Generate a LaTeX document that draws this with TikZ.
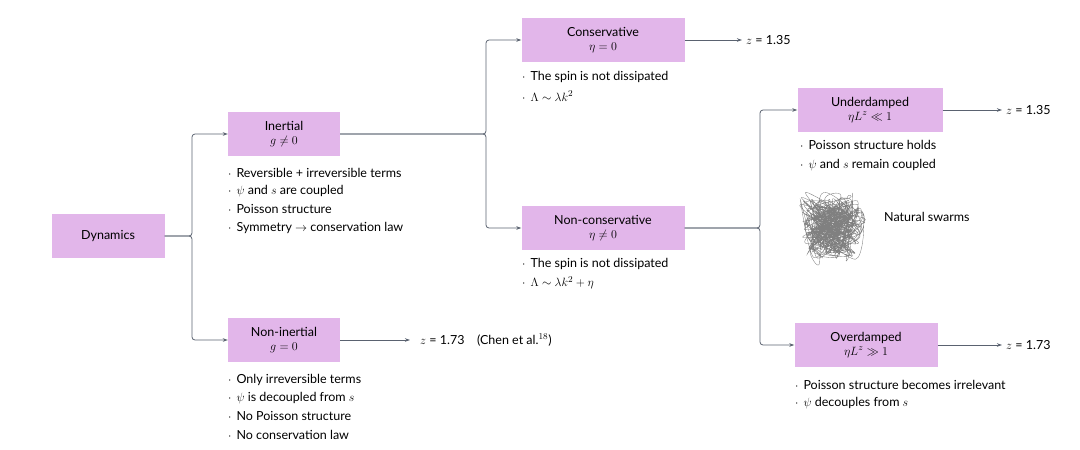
\documentclass[tikz,border=0pt]{standalone}
\usepackage{fontspec}
\setmainfont{Lato}
\usetikzlibrary{arrows.meta}
\definecolor{boxc}{HTML}{E2B6EA}
\definecolor{linec}{HTML}{5A6270}
\begin{document}
\begin{tikzpicture}[x=1pt,y=-1pt,
  box/.style={fill=boxc,draw=none,minimum height=44pt,align=center,inner sep=2pt,font=\fontsize{12.5}{13.5}\selectfont},
  conn/.style={draw=linec,line width=0.8pt,rounded corners=3pt,-{Stealth[length=5pt,width=3.5pt]}},
  lst/.style={anchor=west,font=\fontsize{12.5}{14}\selectfont,inner sep=0pt},
  zt/.style={anchor=west,font=\fontsize{12.5}{14}\selectfont,inner sep=0pt}]
\useasboundingbox (0,0) rectangle (1080,450);
\newcommand{\bl}{$\cdot$\hspace{5pt}}
\node[box,minimum width=113pt] (dyn) at (108,236) {Dynamics};
\node[box,minimum width=112pt] (in) at (284,134) {Inertial\\$g\neq 0$};
\node[box,minimum width=112pt] (nin) at (284,340) {Non-inertial\\$g=0$};
\node[box,minimum width=163pt] (con) at (603,40) {Conservative\\$\eta=0$};
\node[box,minimum width=163pt] (ncon) at (603,228) {Non-conservative\\$\eta\neq 0$};
\node[box,minimum width=145pt] (und) at (870,110) {Underdamped\\$\eta L^z \ll 1$};
\node[box,minimum width=143pt] (ovd) at (866,345) {Overdamped\\$\eta L^z \gg 1$};
\coordinate (b1) at (192,236);
\coordinate (b2) at (486,134);
\coordinate (b3) at (760,228);
\draw[conn] (dyn.east) -- (b1) |- (in.west);
\draw[conn] (dyn.east) -- (b1) |- (nin.west);
\draw[conn] (in.east) -- (b2) |- (con.west);
\draw[conn] (in.east) -- (b2) |- (ncon.west);
\draw[conn] (ncon.east) -- (b3) |- (und.west);
\draw[conn] (ncon.east) -- (b3) |- (ovd.west);
\node[zt] (z1) at (746,40) {$z$ = 1.35};
\node[zt] (z2) at (1006,110) {$z$ = 1.35};
\node[zt] (z3) at (420,340) {$z$ = 1.73\quad(Chen et al.$^{18}$)};
\node[zt] (z4) at (1006,345) {$z$ = 1.73};
\draw[conn,shorten >=4pt] (con.east) -- (z1.west);
\draw[conn,shorten >=4pt] (und.east) -- (z2.west);
\draw[conn] (nin.east) -- ([xshift=-10pt]z3.west);
\draw[conn,shorten >=4pt] (ovd.east) -- (z4.west);
\node[lst] (i1) at (228,173) {\bl Reversible + irreversible terms};
\node[lst] (i2) at (228,191) {\bl $\psi$ and $s$ are coupled};
\node[lst] (i3) at (228,209) {\bl Poisson structure};
\node[lst] (i4) at (228,228) {\bl Symmetry $\rightarrow$ conservation law};
\node[lst] (n1) at (228,380) {\bl Only irreversible terms};
\node[lst] (n2) at (228,398) {\bl $\psi$ is decoupled from $s$};
\node[lst] (n3) at (228,416) {\bl No Poisson structure};
\node[lst] (n4) at (228,435) {\bl No conservation law};
\node[lst] (c1) at (522,77) {\bl The spin is not dissipated};
\node[lst] (c2) at (522,96) {\bl $\Lambda\sim\lambda k^2$};
\node[lst] (nc1) at (522,264) {\bl The spin is not dissipated};
\node[lst] (nc2) at (522,283) {\bl $\Lambda\sim\lambda k^2+\eta$};
\node[lst] (u1) at (800,145) {\bl Poisson structure holds};
\node[lst] (u2) at (800,165) {\bl $\psi$ and $s$ remain coupled};
\node[lst] (o1) at (795,385) {\bl Poisson structure becomes irrelevant};
\node[lst] (o2) at (795,403) {\bl $\psi$ decouples from $s$};
\pgfmathsetseed{7}
\draw[gray,line width=0.35pt] plot[smooth,samples=320,domain=1:320] ({832+34*rand*abs(rand)^0.3},{228+38*rand*abs(rand)^0.3});
\node[lst] (sw) at (884,217) {Natural swarms};
\end{tikzpicture}
\end{document}
